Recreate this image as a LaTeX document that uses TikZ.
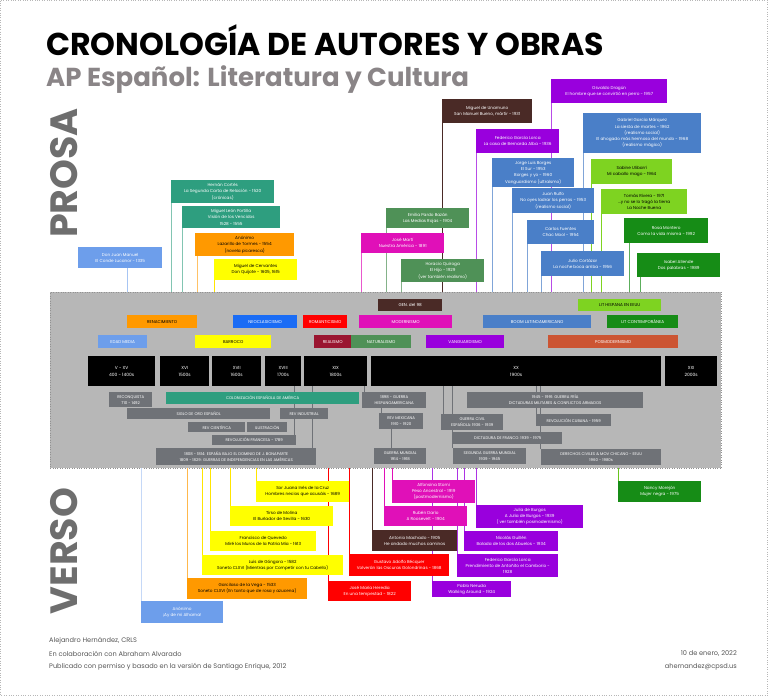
\documentclass[tikz,border=0pt]{standalone}
\usepackage{fontspec}
\setmainfont{Poppins}
\usetikzlibrary{positioning}

\definecolor{cblue}{HTML}{6D9EEB}
\definecolor{cteal}{HTML}{2E9E7F}
\definecolor{corange}{HTML}{FF9900}
\definecolor{cyellow}{HTML}{FFFF00}
\definecolor{cneo}{HTML}{1A6CF5}
\definecolor{cred}{HTML}{FF0000}
\definecolor{cmagenta}{HTML}{E010B8}
\definecolor{cdarkred}{HTML}{9A1530}
\definecolor{cgreen}{HTML}{4F9157}
\definecolor{cbrown}{HTML}{4A2A26}
\definecolor{cpurple}{HTML}{9900DD}
\definecolor{cboom}{HTML}{4A7FC8}
\definecolor{clime}{HTML}{7ED321}
\definecolor{cdkgreen}{HTML}{168C16}
\definecolor{cposmo}{HTML}{CC5533}
\definecolor{cevent}{HTML}{6F7277}
\definecolor{cband}{HTML}{B7B7B7}
\definecolor{csub}{HTML}{8A8587}
\definecolor{cbig}{HTML}{6E6E6E}
\definecolor{cfoot}{HTML}{555555}

\pgfdeclarelayer{back}
\pgfdeclarelayer{mid}
\pgfsetlayers{back,mid,main}

\begin{document}
\begin{tikzpicture}[
  x=1pt, y=-1pt,
  tag/.style={rectangle, anchor=north west, inner sep=0pt, align=center,
    text=white, font=\fontsize{4.2}{6.2}\selectfont},
  ink/.style={text=black},
  era/.style={tag, minimum height=13, font=\fontsize{4.2}{5}\selectfont},
  century/.style={tag, fill=black, minimum height=30, font=\fontsize{4.4}{7}\selectfont},
  event/.style={tag, fill=cevent, font=\fontsize{3.9}{6}\selectfont},
  stem/.style={line width=0.9pt},
  tick/.style={line width=0.8pt, draw=cevent}
]
\useasboundingbox (0,0) rectangle (768,696);
\draw[cband, dotted] (0.5,0.5) rectangle (767.5,695.5);

% titles
\node[anchor=base west, inner sep=0pt, font=\bfseries\fontsize{31.6}{32}\selectfont] (title) at (46,55) {CRONOLOGÍA DE AUTORES Y OBRAS};
\node[anchor=base west, inner sep=0pt, text=csub, font=\bfseries\fontsize{26}{26}\selectfont] (subtitle) at (46,86) {AP Español: Literatura y Cultura};
\node[rotate=90, inner sep=0pt, text=cbig, font=\bfseries\fontsize{38}{38}\selectfont] (prosa) at (64,173) {PROSA};
\node[rotate=90, inner sep=0pt, text=cbig, font=\bfseries\fontsize{38}{38}\selectfont] (verso) at (64,551) {VERSO};

% band
\begin{pgfonlayer}{back}
\node[rectangle, anchor=north west, inner sep=0pt, fill=cband, draw=cband!80!black, dotted,
  minimum width=671, minimum height=176] (band) at (50,292) {};
\end{pgfonlayer}

% prosa
\node[tag, fill=cblue, minimum width=84, minimum height=21] (jmanuel) at (78,247) {Don Juan Manuel\\El Conde Lucanor - 1335};
\node[tag, fill=cteal, minimum width=103, minimum height=23] (cortes) at (171,180) {Hernán Cortés\\La Segunda Carta de Relación - 1520\\(crónicas)};
\node[tag, fill=cteal, minimum width=98, minimum height=22] (leonportilla) at (182,206) {Miguel León Portilla\\Visión de los Vencidos\\1528 - 1555};
\node[tag, ink, fill=corange, minimum width=99, minimum height=23] (lazarillo) at (195,233) {Anónimo\\Lazarillo de Tormes - 1554\\(novela picaresca)};
\node[tag, ink, fill=cyellow, minimum width=83, minimum height=21] (cervantes) at (214,259) {Miguel de Cervantes\\Don Quijote - 1605, 1615};
\node[tag, fill=cbrown, minimum width=90, minimum height=24] (unamuno) at (442,99) {Miguel de Unamuno\\San Manuel Bueno, mártir - 1931};
\node[tag, fill=cpurple, minimum width=83, minimum height=24] (lorcaprosa) at (476,129) {Federico García Lorca\\La casa de Bernarda Alba - 1936};
\node[tag, fill=cgreen, minimum width=83, minimum height=20] (pardobazan) at (386,208) {Emilia Pardo Bazán\\Las Medias Rojas - 1904};
\node[tag, fill=cmagenta, minimum width=83, minimum height=20] (marti) at (361,233) {José Martí\\Nuestra América - 1891};
\node[tag, fill=cgreen, minimum width=83, minimum height=23] (quiroga) at (401,259) {Horacio Quiroga\\El Hijo - 1929\\(ver también realismo)};
\node[tag, fill=cpurple, minimum width=116, minimum height=24] (dragun) at (551,79) {Osvaldo Dragún\\El hombre que se convirtió en perro - 1957};
\node[tag, fill=cboom, minimum width=118, minimum height=40] (garciamarquez) at (583,113) {Gabriel García Márquez\\La siesta de martes - 1962\\(realismo social)\\El ahogado más hermoso del mundo - 1968\\(realismo mágico)};
\node[tag, fill=cboom, minimum width=82, minimum height=29] (borges) at (492,158) {Jorge Luis Borges\\El Sur - 1953\\Borges y yo - 1960\\Vanguardismo (ultraísmo)};
\node[tag, fill=cboom, minimum width=82, minimum height=25] (rulfo) at (512,188) {Juan Rulfo\\No oyes ladrar los perros - 1953\\(realismo social)};
\node[tag, ink, fill=clime, minimum width=81, minimum height=25] (ulibarri) at (591,159) {Sabine Ulibarrí\\Mi caballo mago - 1964};
\node[tag, ink, fill=clime, minimum width=86, minimum height=25] (rivera) at (601,189) {Tomás Rivera - 1971\\...y no se lo tragó la tierra\\La Noche Buena};
\node[tag, fill=cboom, minimum width=67, minimum height=24] (fuentes) at (527,220) {Carlos Fuentes\\Chac Mool - 1954};
\node[tag, fill=cdkgreen, minimum width=84, minimum height=25] (montero) at (624,218) {Rosa Montero\\Como la vida misma - 1992};
\node[tag, fill=cboom, minimum width=83, minimum height=25] (cortazar) at (541,251) {Julio Cortázar\\La noche boca arriba - 1956};
\node[tag, fill=cdkgreen, minimum width=83, minimum height=24] (allende) at (637,253) {Isabel Allende\\Dos palabras - 1989};

% movimientos
\node[era, fill=cbrown, minimum width=64, minimum height=12] (gen98) at (378,299) {GEN. del 98};
\node[era, ink, fill=clime, minimum width=83, minimum height=12] (lithispana) at (578,299) {LIT HISPANA EN EEUU};
\node[era, ink, fill=corange, minimum width=70] (renacimiento) at (127,315) {RENACIMIENTO};
\node[era, fill=cneo, minimum width=64] (neoclasicismo) at (233,315) {NEOCLASICISMO};
\node[era, fill=cred, minimum width=44] (romanticismo) at (303,315) {ROMANTICISMO};
\node[era, fill=cmagenta, minimum width=93] (modernismo) at (359,315) {MODERNISMO};
\node[era, fill=cboom, minimum width=108] (boom) at (483,315) {BOOM LATINOAMERICANO};
\node[era, fill=cdkgreen, minimum width=71] (litcontemp) at (607,315) {LIT CONTEMPORÁNEA};
\node[era, fill=cblue, minimum width=49] (edadmedia) at (98,335) {EDAD MEDIA};
\node[era, ink, fill=cyellow, minimum width=76] (barroco) at (195,335) {BARROCO};
\node[era, fill=cdarkred, minimum width=37] (realismo) at (314,335) {REALISMO};
\node[era, fill=cgreen, minimum width=60] (naturalismo) at (351,335) {NATURALISMO};
\node[era, fill=cpurple, minimum width=78] (vanguardismo) at (426,335) {VANGUARDISMO};
\node[era, fill=cposmo, minimum width=130] (posmodernismo) at (548,335) {POSMODERNISMO};

% siglos
\node[century, minimum width=67] (sxv) at (88,356) {V - XV\\400 - 1400s};
\node[century, minimum width=49] (sxvi) at (160,356) {XVI\\1500s};
\node[century, minimum width=49] (sxvii) at (212,356) {XVII\\1600s};
\node[century, minimum width=36] (sxviii) at (265,356) {XVIII\\1700s};
\node[century, minimum width=63] (sxix) at (304,356) {XIX\\1800s};
\node[century, minimum width=290] (sxx) at (371,356) {XX\\1900s};
\node[century, minimum width=52] (sxxi) at (665,356) {XXI\\2000s};

% historia
\node[event, minimum width=43, minimum height=15] (reconquista) at (109,392) {RECONQUISTA\\710 - 1492};
\node[event, fill=cteal, minimum width=193, minimum height=12] (colonizacion) at (166,392) {COLONIZACIÓN ESPAÑOLA DE AMÉRICA};
\node[event, minimum width=143, minimum height=11] (siglodeoro) at (127,408) {SIGLO DE ORO ESPAÑOL};
\node[event, minimum width=48, minimum height=11] (revindustrial) at (280,408) {REV INDUSTRIAL};
\node[event, minimum width=57, minimum height=10] (revcientifica) at (188,422) {REV CIENTÍFICA};
\node[event, minimum width=40, minimum height=10] (ilustracion) at (247,422) {ILUSTRACIÓN};
\node[event, minimum width=84, minimum height=10] (revfrancesa) at (212,435) {REVOLUCIÓN FRANCESA - 1789};
\node[event, minimum width=160, minimum height=17] (bonaparte) at (156,448) {1808 - 1814: ESPAÑA BAJO EL DOMINIO DE J. BONAPARTE\\1809 - 1829: GUERRAS DE INDEPENDENCIAS EN LAS AMÉRICAS};
\node[event, minimum width=64, minimum height=16] (hispanoamericana) at (362,392) {1898 - GUERRA\\HISPANOAMERICANA};
\node[event, minimum width=44, minimum height=16] (revmexicana) at (379,413) {REV MEXICANA\\1910 - 1920};
\node[event, minimum width=52, minimum height=16] (guerramundial) at (374,448) {GUERRA MUNDIAL\\1914 - 1918};
\node[event, minimum width=62, minimum height=16] (guerracivil) at (441,414) {GUERRA CIVIL\\ESPAÑOLA: 1936 - 1939};
\node[event, minimum width=109, minimum height=12] (franco) at (453,432) {DICTADURA DE FRANCO: 1939 - 1975};
\node[event, minimum width=73, minimum height=16] (segundaguerra) at (453,448) {SEGUNDA GUERRA MUNDIAL\\1939 - 1945};
\node[event, minimum width=176, minimum height=16] (guerrafria) at (467,392) {1945 - 1991: GUERRA FRÍA\\DICTADURAS MILITARES \& CONFLICTOS ARMADOS};
\node[event, minimum width=75, minimum height=12] (revcubana) at (536,414) {REVOLUCIÓN CUBANA - 1959};
\node[event, minimum width=120, minimum height=16] (derechosciviles) at (541,449) {DERECHOS CIVILES \& MOV CHICANO - EEUU\\1960 - 1980s};

% verso
\node[tag, ink, fill=cyellow, minimum width=93, minimum height=21] (sorjuana) at (256,481) {Sor Juana Inés de la Cruz\\Hombres necios que acusáis - 1689};
\node[tag, ink, fill=cyellow, minimum width=103, minimum height=20] (tirso) at (230,506) {Tirso de Molina\\El Burlador de Sevilla - 1630};
\node[tag, ink, fill=cyellow, minimum width=106, minimum height=20] (quevedo) at (210,531) {Francisco de Quevedo\\Miré los Muros de la Patria Mía - 1613};
\node[tag, ink, fill=cyellow, minimum width=141, minimum height=20] (gongora) at (202,555) {Luis de Góngora - 1582\\Soneto CLXVI (Mientras por Competir con tu Cabello)};
\node[tag, ink, fill=corange, minimum width=120, minimum height=21] (garcilaso) at (187,578) {Garcilaso de la Vega - 1533\\Soneto CLXVI (En tanto que de rosa y azucena)};
\node[tag, fill=cblue, minimum width=82, minimum height=22] (anonimo) at (141,601) {Anónimo\\¡Ay de mi Alhama!};
\node[tag, fill=cred, minimum width=83, minimum height=20] (heredia) at (328,581) {José María Heredia\\En una tempestad - 1822};
\node[tag, fill=cred, minimum width=100, minimum height=22] (becquer) at (349,554) {Gustavo Adolfo Bécquer\\Volverán las Oscuras Golondrinas - 1868};
\node[tag, fill=cbrown, minimum width=85, minimum height=21] (machado) at (372,530) {Antonio Machado - 1905\\He andado muchos caminos};
\node[tag, fill=cmagenta, minimum width=83, minimum height=20] (dario) at (384,506) {Rubén Darío\\A Roosevelt - 1904};
\node[tag, fill=cmagenta, minimum width=83, minimum height=23] (storni) at (392,480) {Alfonsina Storni\\Peso Ancestral - 1919\\(postmodernismo)};
\node[tag, fill=cpurple, minimum width=107, minimum height=23] (burgos) at (476,505) {Julia de Burgos\\A Julia de Burgos - 1939\\( ver también posmodernismo)};
\node[tag, fill=cpurple, minimum width=94, minimum height=20] (guillen) at (464,531) {Nicolás Guillén\\Balada de los dos Abuelos - 1934};
\node[tag, fill=cpurple, minimum width=101, minimum height=23] (lorcaverso) at (457,554) {Federico García Lorca\\Prendimiento de Antoñito el Camborio -\\1928};
\node[tag, fill=cpurple, minimum width=79, minimum height=16] (neruda) at (432,581) {Pablo Neruda\\Walking Around - 1924};
\node[tag, fill=cdkgreen, minimum width=83, minimum height=21] (morejon) at (618,481) {Nancy Morejón\\Mujer negra - 1975};

% lines
\begin{pgfonlayer}{mid}
\draw[stem, cblue!60] ([xshift=49pt]jmanuel.south west) -- ([xshift=49pt]jmanuel.south west |- band.north);
\draw[stem, cteal!60] ([xshift=0.5pt]cortes.south west) -- ([xshift=0.5pt]cortes.south west |- band.north);
\draw[stem, cteal!60] ([xshift=0.5pt]leonportilla.south west) -- ([xshift=0.5pt]leonportilla.south west |- band.north);
\draw[stem, corange!60] ([xshift=2pt]lazarillo.south west) -- ([xshift=2pt]lazarillo.south west |- band.north);
\draw[stem, cyellow!80!orange] ([xshift=0.5pt]cervantes.south west) -- ([xshift=0.5pt]cervantes.south west |- band.north);
\foreach \n/\c in {unamuno/cbrown, lorcaprosa/cpurple!70, pardobazan/cgreen!70, marti/cmagenta!70,
  quiroga/cgreen!70, dragun/cpurple!70, garciamarquez/cboom!70, borges/cboom!70, rulfo/cboom!70,
  ulibarri/clime, rivera/clime, fuentes/cboom!70, cortazar/cboom!70}
  \draw[stem, \c] ([xshift=0.5pt]\n.south west) -- ([xshift=0.5pt]\n.south west |- band.north);
\draw[stem, cdkgreen!70] ([xshift=5pt]montero.south west) -- ([xshift=5pt]montero.south west |- band.north);
\draw[stem, cdkgreen!70] ([xshift=3pt]allende.south west) -- ([xshift=3pt]allende.south west |- band.north);
\foreach \n/\c in {sorjuana/cyellow!80!orange, tirso/cyellow!80!orange, quevedo/cyellow!80!orange,
  gongora/cyellow!80!orange, garcilaso/corange!70, anonimo/cblue!40, heredia/cred, becquer/cred,
  machado/cbrown, dario/cmagenta, storni/cmagenta, burgos/cpurple!80, guillen/cpurple!80,
  lorcaverso/cpurple!80, neruda/cpurple!80, morejon/clime!80!cdkgreen}
  \draw[stem, \c] ([xshift=0.5pt]\n.north west) -- ([xshift=0.5pt]\n.north west |- band.south);
\draw[tick] ([xshift=-2pt]revfrancesa.north east) -- ([xshift=-2pt]revfrancesa.north east |- sxviii.south);
\draw[tick] ([xshift=-4pt]bonaparte.north east) -- ([xshift=-4pt]bonaparte.north east |- sxix.south);
\draw[tick] ([xshift=2pt]hispanoamericana.north west) -- ([xshift=2pt]hispanoamericana.north west |- sxix.south);
\draw[tick] ([xshift=2pt]revmexicana.north west) -- ([xshift=2pt]revmexicana.north west |- hispanoamericana.south);
\draw[tick] ([xshift=12pt]revmexicana.south west) -- ([xshift=12pt]revmexicana.south west |- guerramundial.north);
\draw[tick] ([xshift=2pt]guerracivil.north west) -- ([xshift=2pt]guerracivil.north west |- sxx.south);
\draw[tick] ([xshift=-1pt]segundaguerra.north west) -- ([xshift=-1pt]segundaguerra.north west |- sxx.south);
\draw[tick] ([xshift=0.5pt]revcubana.north west) -- ([xshift=0.5pt]revcubana.north west |- sxx.south);
\draw[tick] ([xshift=-1pt]derechosciviles.north west) -- ([xshift=-1pt]derechosciviles.north west |- sxx.south);
\end{pgfonlayer}

% pie
\node[anchor=west, inner sep=0pt, text=cfoot, font=\fontsize{6.6}{8}\selectfont] (autor) at (49,641) {Alejandro Hernández, CRLS};
\node[anchor=west, inner sep=0pt, text=cfoot, font=\fontsize{6.6}{8}\selectfont] (colab) at (49,654) {En colaboración con Abraham Alvarado};
\node[anchor=west, inner sep=0pt, text=cfoot, font=\fontsize{6.6}{8}\selectfont] (permiso) at (49,667) {Publicado con permiso y basado en la versión de Santiago Enrique, 2012};
\node[anchor=east, inner sep=0pt, text=cfoot, font=\fontsize{6.6}{8}\selectfont] (fecha) at (737,654) {10 de enero, 2022};
\node[anchor=east, inner sep=0pt, text=cfoot, font=\fontsize{6.6}{8}\selectfont] (correo) at (737,667) {ahernandez@cpsd.us};
\end{tikzpicture}
\end{document}
